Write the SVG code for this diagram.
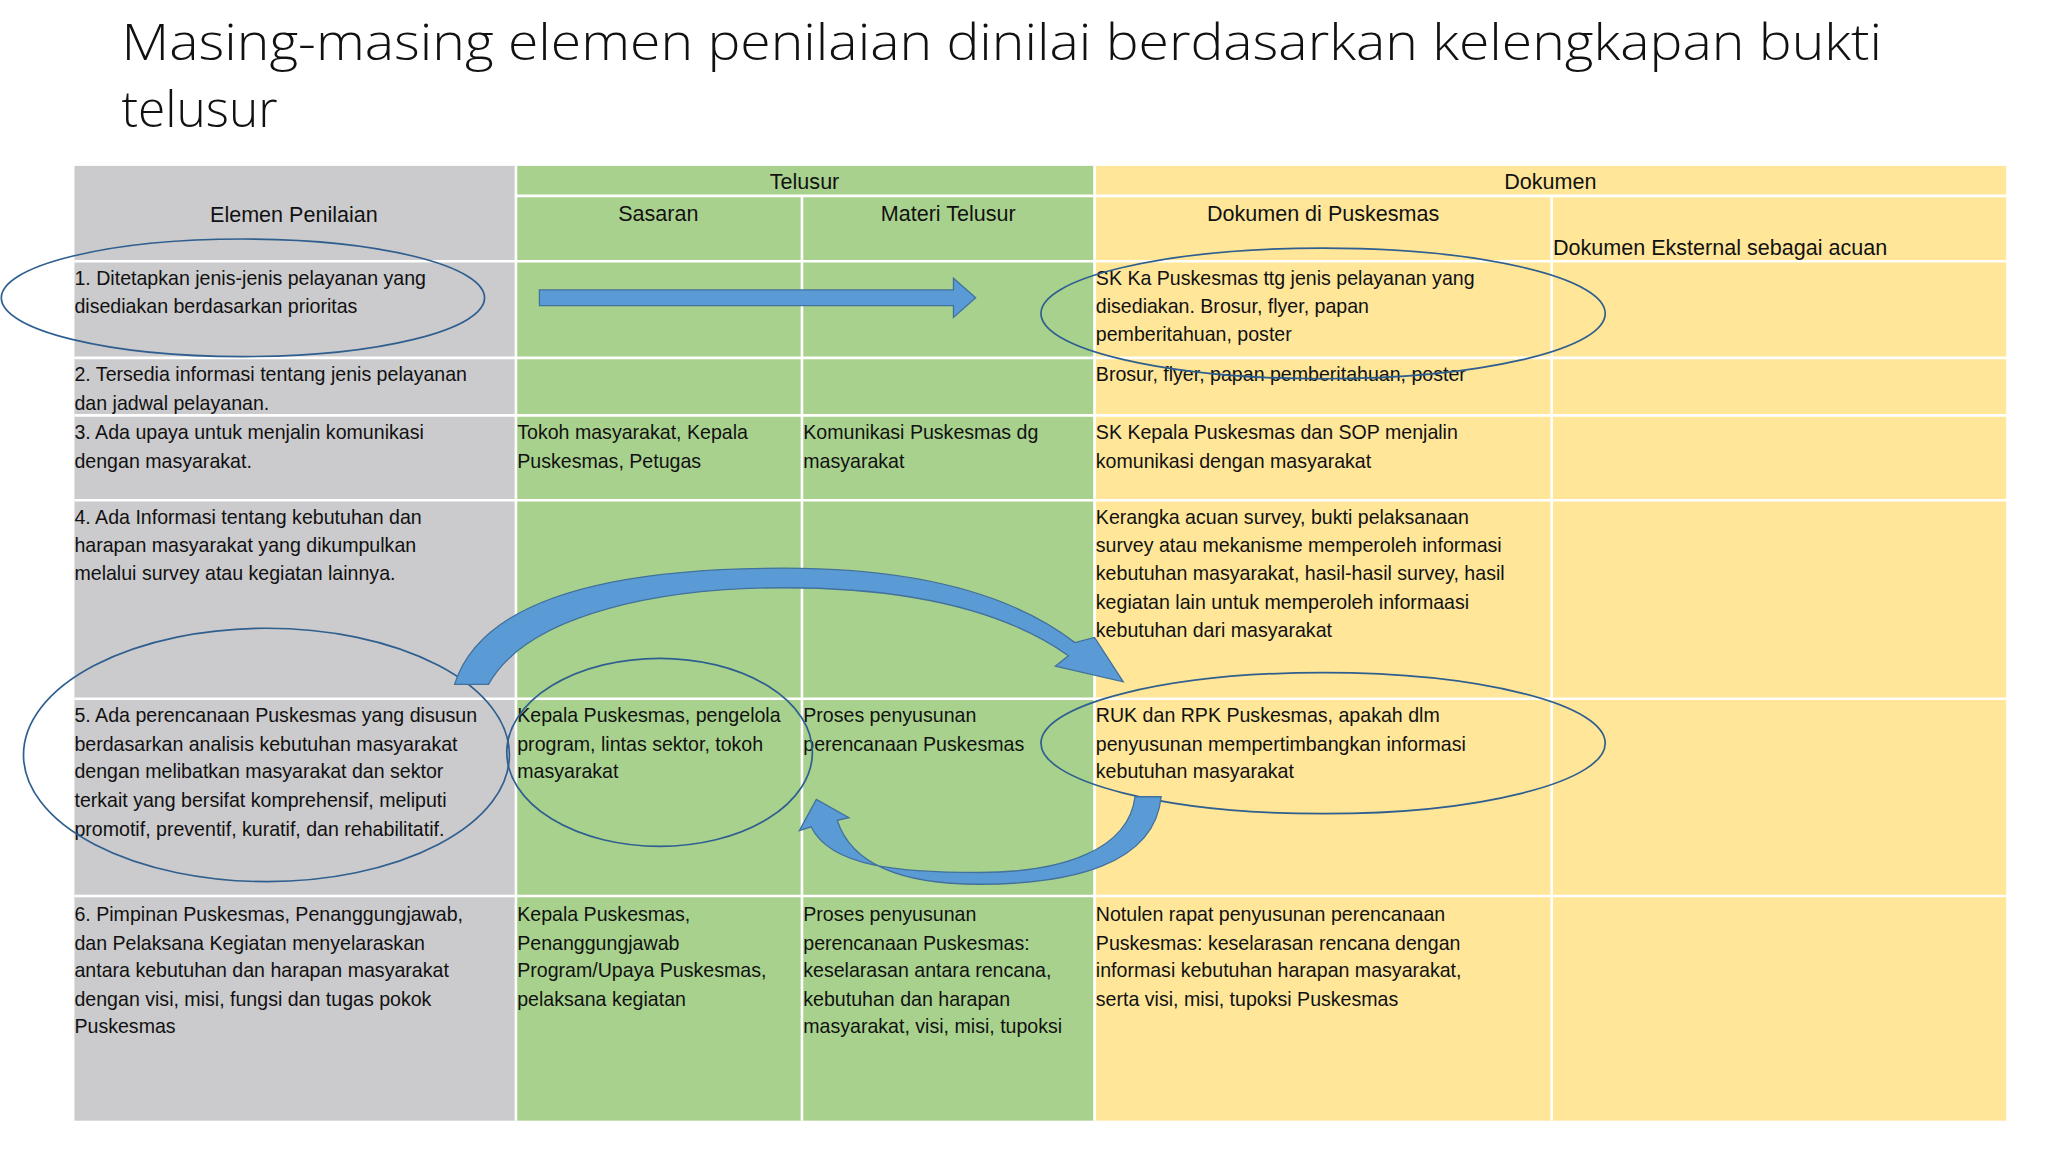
<svg xmlns="http://www.w3.org/2000/svg" width="2048" height="1152" viewBox="0 0 2048 1152">
<style>
.t{font-family:"Liberation Sans",Arial,sans-serif;font-size:15px;fill:#111}
.h{font-family:"Liberation Sans",Arial,sans-serif;font-size:16.5px;fill:#111}
.c{text-anchor:middle}
.ttl{font-family:"Open Sans","Liberation Sans",sans-serif;font-size:38px;fill:#111;font-weight:300}
.e{fill:none;stroke:#2f5f8f;stroke-width:1.3}
.a{fill:#5b9bd5;stroke:#41719c;stroke-width:1}
.g{fill:#cbcacc}.gr{fill:#a9d18e}.y{fill:#ffe699}
.ln{stroke:#fff;stroke-width:2}
</style>
<rect width="2048" height="1152" fill="#fff"/>
<g transform="scale(1.30612)">
<g id="title">
<text class="ttl" x="93" y="46" textLength="1348" lengthAdjust="spacingAndGlyphs">Masing-masing elemen penilaian dinilai berdasarkan kelengkapan bukti</text>
<text class="ttl" x="93" y="97">telusur</text>
</g>
<g id="table">
<rect class="g" x="57" y="127" width="338" height="731"/>
<rect class="gr" x="395" y="127" width="443" height="731"/>
<rect class="y" x="838" y="127" width="698" height="731"/>
<g class="ln">
<line x1="395" y1="150" x2="1536" y2="150"/>
<line x1="57" y1="200" x2="1536" y2="200"/>
<line x1="57" y1="274" x2="1536" y2="274"/>
<line x1="57" y1="318" x2="1536" y2="318"/>
<line x1="57" y1="383" x2="1536" y2="383"/>
<line x1="57" y1="535" x2="1536" y2="535"/>
<line x1="57" y1="686" x2="1536" y2="686"/>
<line x1="395" y1="127" x2="395" y2="858"/>
<line x1="614" y1="150" x2="614" y2="858"/>
<line x1="838" y1="127" x2="838" y2="858"/>
<line x1="1188" y1="150" x2="1188" y2="858"/>
</g>
<text class="h c" x="616" y="145">Telusur</text>
<text class="h c" x="1187" y="145">Dokumen</text>
<text class="h c" x="225" y="170">Elemen Penilaian</text>
<text class="h c" x="504" y="169">Sasaran</text>
<text class="h c" x="726" y="169">Materi Telusur</text>
<text class="h c" x="1013" y="169">Dokumen di Puskesmas</text>
<text class="h" x="1189" y="195">Dokumen Eksternal sebagai acuan</text>
</g>
<g id="row1" class="t">
<text x="57" y="218">1.  Ditetapkan jenis-jenis pelayanan yang</text>
<text x="57" y="240">disediakan berdasarkan prioritas</text>
<text x="839" y="218">SK Ka Puskesmas ttg jenis pelayanan yang</text>
<text x="839" y="240">disediakan. Brosur, flyer, papan</text>
<text x="839" y="261">pemberitahuan, poster</text>
</g>
<g id="row2" class="t">
<text x="57" y="292">2. Tersedia informasi tentang jenis pelayanan</text>
<text x="57" y="314">dan jadwal pelayanan.</text>
<text x="839" y="292">Brosur, flyer, papan pemberitahuan, poster</text>
</g>
<g id="row3" class="t">
<text x="57" y="336">3. Ada upaya untuk menjalin komunikasi</text>
<text x="57" y="358">dengan masyarakat.</text>
<text x="396" y="336">Tokoh masyarakat, Kepala</text>
<text x="396" y="358">Puskesmas, Petugas</text>
<text x="615" y="336">Komunikasi Puskesmas dg</text>
<text x="615" y="358">masyarakat</text>
<text x="839" y="336">SK Kepala Puskesmas dan SOP menjalin</text>
<text x="839" y="358">komunikasi dengan masyarakat</text>
</g>
<g id="row4" class="t">
<text x="57" y="401">4. Ada Informasi tentang kebutuhan dan</text>
<text x="57" y="423">harapan masyarakat yang dikumpulkan</text>
<text x="57" y="444">melalui survey atau kegiatan lainnya.</text>
<text x="839" y="401">Kerangka acuan survey, bukti pelaksanaan</text>
<text x="839" y="423">survey atau mekanisme memperoleh informasi</text>
<text x="839" y="444">kebutuhan masyarakat, hasil-hasil survey, hasil</text>
<text x="839" y="466">kegiatan lain untuk memperoleh informaasi</text>
<text x="839" y="488">kebutuhan dari masyarakat</text>
</g>
<g id="row5" class="t">
<text x="57" y="553">5. Ada perencanaan Puskesmas yang disusun</text>
<text x="57" y="575">berdasarkan analisis kebutuhan masyarakat</text>
<text x="57" y="596">dengan melibatkan masyarakat dan sektor</text>
<text x="57" y="618">terkait yang bersifat komprehensif, meliputi</text>
<text x="57" y="640">promotif, preventif, kuratif, dan rehabilitatif.</text>
<text x="396" y="553">Kepala Puskesmas, pengelola</text>
<text x="396" y="575">program, lintas sektor, tokoh</text>
<text x="396" y="596">masyarakat</text>
<text x="615" y="553">Proses penyusunan</text>
<text x="615" y="575">perencanaan Puskesmas</text>
<text x="839" y="553">RUK dan RPK Puskesmas, apakah dlm</text>
<text x="839" y="575">penyusunan mempertimbangkan informasi</text>
<text x="839" y="596">kebutuhan masyarakat</text>
</g>
<g id="row6" class="t">
<text x="57" y="705">6. Pimpinan Puskesmas, Penanggungjawab,</text>
<text x="57" y="727">dan Pelaksana Kegiatan  menyelaraskan</text>
<text x="57" y="748">antara kebutuhan dan harapan masyarakat</text>
<text x="57" y="770">dengan visi, misi, fungsi dan tugas pokok</text>
<text x="57" y="791">Puskesmas</text>
<text x="396" y="705">Kepala Puskesmas,</text>
<text x="396" y="727">Penanggungjawab</text>
<text x="396" y="748">Program/Upaya Puskesmas,</text>
<text x="396" y="770">pelaksana kegiatan</text>
<text x="615" y="705">Proses penyusunan</text>
<text x="615" y="727">perencanaan Puskesmas:</text>
<text x="615" y="748">keselarasan antara rencana,</text>
<text x="615" y="770">kebutuhan dan harapan</text>
<text x="615" y="791">masyarakat, visi, misi, tupoksi</text>
<text x="839" y="705">Notulen rapat penyusunan perencanaan</text>
<text x="839" y="727">Puskesmas: keselarasan rencana dengan</text>
<text x="839" y="748">informasi kebutuhan harapan masyarakat,</text>
<text x="839" y="770">serta visi, misi, tupoksi Puskesmas</text>
</g>
<g id="connectors">
<ellipse class="e" cx="186" cy="228" rx="185" ry="45"/>
<ellipse class="e" cx="1013" cy="240" rx="216" ry="50"/>
<ellipse class="e" cx="204" cy="578" rx="186" ry="97"/>
<ellipse class="e" cx="505" cy="576" rx="117" ry="72"/>
<ellipse class="e" cx="1013" cy="569" rx="216" ry="54"/>
<path class="a" d="M413,222 L730,222 L730,213 L747,228 L730,243 L730,234 L413,234 Z"/>
<path class="a" d="M348,524 C372,448 500,435 600,435 C700,435 775,455 823,492 L838,488 L860,522 L808,510 L818,502 C770,468 700,450 600,450 C512,450 405,468 374,524 Z"/>
<path class="a" d="M889,610 C884,662 820,677 750,677 C690,677 652,662 641,628 L650,626 L625,612 L612,636 L621,633 C636,664 690,668 750,668 C815,668 864,650 869,610 Z"/>
</g>
</g>
</svg>
